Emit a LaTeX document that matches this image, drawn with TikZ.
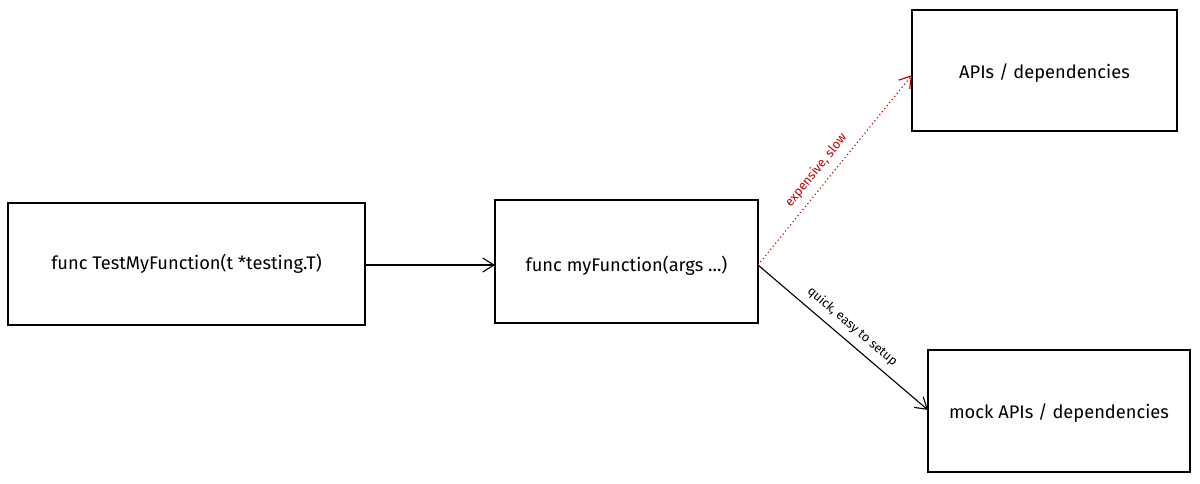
\documentclass[tikz,border=0pt]{standalone}
\usetikzlibrary{arrows.meta}
\usepackage{fontspec}
\setmainfont{Fira Sans}
\begin{document}
\begin{tikzpicture}[x=0.025cm,y=-0.025cm,
 box/.style={draw,line width=0.9pt,inner sep=0pt},
 lbl/.style={font=\fontsize{13}{15}\selectfont},
 small/.style={font=\fontsize{9}{11}\selectfont}]
\useasboundingbox (0,0) rectangle (1200,483);
\draw[box] (8,203) rectangle (365,325);
\node[lbl] (a) at (186.5,264) {func TestMyFunction(t *testing.T)};
\coordinate (ar) at (365,265);
\draw[box] (495,200) rectangle (758,323);
\node[lbl] (b) at (626.5,266) {func myFunction(args ...)};
\coordinate (bl) at (495,265);
\coordinate (br) at (758,265);
\draw[box] (912,10) rectangle (1177,131);
\node[lbl] (c) at (1044.5,73) {APIs / dependencies};
\coordinate (cl) at (912,75);
\draw[box] (928,350) rectangle (1190,472);
\node[lbl] (d) at (1059,413) {mock APIs / dependencies};
\coordinate (dl) at (928,410);
\draw[line width=0.8pt,-{Straight Barb[length=8pt,width=10pt]}] (ar) -- (bl);
\draw[line width=0.8pt,-{Straight Barb[length=8pt,width=10pt]}] (br) -- node[small,sloped,above=2pt]{quick, easy to setup} (dl);
\draw[red!75!black,line width=0.8pt,dotted,-{Straight Barb[length=8pt,width=10pt]}] (br) -- node[small,sloped,above=2pt,text=red!75!black,pos=0.45]{expensive, slow} (cl);
\end{tikzpicture}
\end{document}
